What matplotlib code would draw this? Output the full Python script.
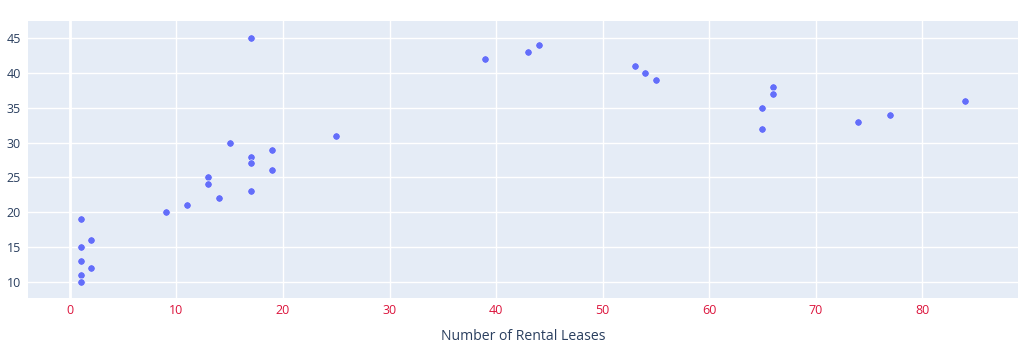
import matplotlib
matplotlib.use("Agg")
import matplotlib.pyplot as plt

rental_leases = [1, 1, 1, 1, 1, 2, 2, 9, 11, 13, 13, 14, 15, 17, 17, 17, 17, 19, 19, 25,
                 39, 43, 44, 53, 54, 55, 65, 65, 66, 66, 74, 77, 84]
values = [19, 15, 13, 11, 10, 16, 12, 20, 21, 25, 24, 22, 30, 28, 27, 23, 45, 29, 26, 31,
          42, 43, 44, 41, 40, 39, 35, 32, 38, 37, 33, 34, 36]
x_ticks = [0, 10, 20, 30, 40, 50, 60, 70, 80]
y_ticks = [10, 15, 20, 25, 30, 35, 40, 45]
x_title = "Number of Rental Leases"

plt.rcParams['font.family'] = ['Open Sans', 'DejaVu Sans']

fig = plt.figure(figsize=(10.35, 3.51), dpi=100)
W, H = 1035, 351
ax = fig.add_axes([28 / W, (H - 298) / H, (1018 - 28) / W, (298 - 21) / H])
ax.set_facecolor('#e5ecf6')
for s in ax.spines.values():
    s.set_visible(False)

ax.set_xlim(-3.94, 89.0)
ax.set_ylim(7.66, 47.49)
ax.set_xticks(x_ticks)
ax.set_yticks(y_ticks)
ax.grid(True, color='white', linewidth=1.0)
ax.set_axisbelow(True)
ax.axvline(0, color='white', linewidth=2, zorder=1)
ax.tick_params(length=0)
ax.tick_params(axis='x', labelcolor='crimson', labelsize=9, pad=4)
ax.tick_params(axis='y', labelcolor='#2a3f5f', labelsize=9, pad=5)

ax.scatter(rental_leases, values, s=28, color='#636efa', edgecolors='white',
           linewidths=0.4, zorder=3)

ax.set_xlabel(x_title, fontsize=10.08, color='#2a3f5f', labelpad=9)

fig.savefig("out.png", dpi=100)
